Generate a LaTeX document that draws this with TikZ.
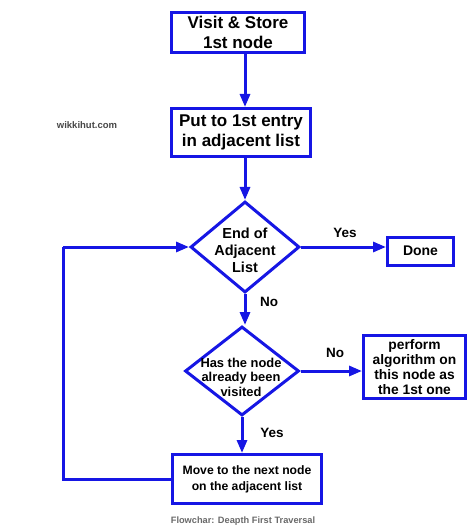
\documentclass[tikz,border=0pt]{standalone}
\usepackage{fontspec}
\setmainfont{Liberation Sans}
\usetikzlibrary{shapes.geometric,arrows.meta}
\definecolor{fblue}{RGB}{22,22,228}
\definecolor{capgray}{RGB}{105,105,105}
\definecolor{wmgray}{RGB}{70,70,70}
\begin{document}
\begin{tikzpicture}[x=1pt,y=-1pt,
  box/.style={draw=fblue, line width=3pt, rectangle, inner sep=0pt, align=center},
  dia/.style={draw=fblue, line width=3pt, diamond, inner sep=0pt},
  txt/.style={align=center, inner sep=0pt},
  arr/.style={draw=fblue, line width=3pt, -{Triangle[length=13pt,width=10pt]}},
  conn/.style={draw=fblue, line width=3pt},
  lab/.style={inner sep=0pt, font=\bfseries\fontsize{13.5}{15}\selectfont}]
\useasboundingbox (0,0) rectangle (474,526);

\node[box, minimum width=133pt, minimum height=40pt,
  font=\bfseries\fontsize{17}{19.5}\selectfont] (b1) at (238,32.5) {Visit \& Store\\1st node};
\node[box, minimum width=139pt, minimum height=48pt,
  font=\bfseries\fontsize{17}{19.5}\selectfont] (b2) at (241,132.5) {Put to 1st entry\\in adjacent list};

\node[dia, minimum width=109pt, minimum height=91pt] (d1) at (245,247) {};
\node[txt, font=\bfseries\fontsize{14.5}{17}\selectfont] (d1t) at (245,250) {End of\\Adjacent\\List};

\node[box, minimum width=66pt, minimum height=28pt,
  font=\bfseries\fontsize{14}{16}\selectfont] (done) at (420.5,251) {Done};

\node[dia, minimum width=114pt, minimum height=89pt] (d2) at (242,371) {};
\node[txt, font=\bfseries\fontsize{12.9}{14.5}\selectfont] (d2t) at (241,377) {Has the node\\already been\\visited};

\node[box, minimum width=102pt, minimum height=63pt,
  font=\bfseries\fontsize{13.8}{15}\selectfont] (perf) at (414.5,367) {perform\\algorithm on\\this node as\\the 1st one};

\node[box, minimum width=149pt, minimum height=49pt,
  font=\bfseries\fontsize{12.2}{16}\selectfont] (move) at (247,479) {Move to the next node\\on the adjacent list};

\coordinate (lb) at (63,479);
\coordinate (lt) at (63,247);

\draw[arr] (b1.south -| d1.north) -- (b2.north -| d1.north);
\draw[arr] (b2.south -| d1.north) -- (d1.north);
\draw[arr] (d1.east) -- (done.west |- d1.east);
\draw[arr] (d1.south) -- (d1.south |- d2.north);
\draw[arr] (d2.east) -- (perf.west |- d2.east);
\draw[arr] (d2.south) -- (move.north -| d2.south);
\draw[conn] (move.west) -- (lb) -- (lt);
\draw[arr] (lt) -- (d1.west);

\node[lab] (yes1) at (345,233) {Yes};
\node[lab] (no1) at (269,302) {No};
\node[lab] (no2) at (335,353) {No};
\node[lab] (yes2) at (272,433) {Yes};

\node[inner sep=0pt, text=wmgray, font=\bfseries\fontsize{9.5}{11}\selectfont] (wm) at (87,125) {wikkihut.com};
\node[inner sep=0pt, text=capgray, font=\bfseries\fontsize{9.25}{11}\selectfont] (cap) at (243,521) {Flowchar: Deapth First Traversal};
\end{tikzpicture}
\end{document}
